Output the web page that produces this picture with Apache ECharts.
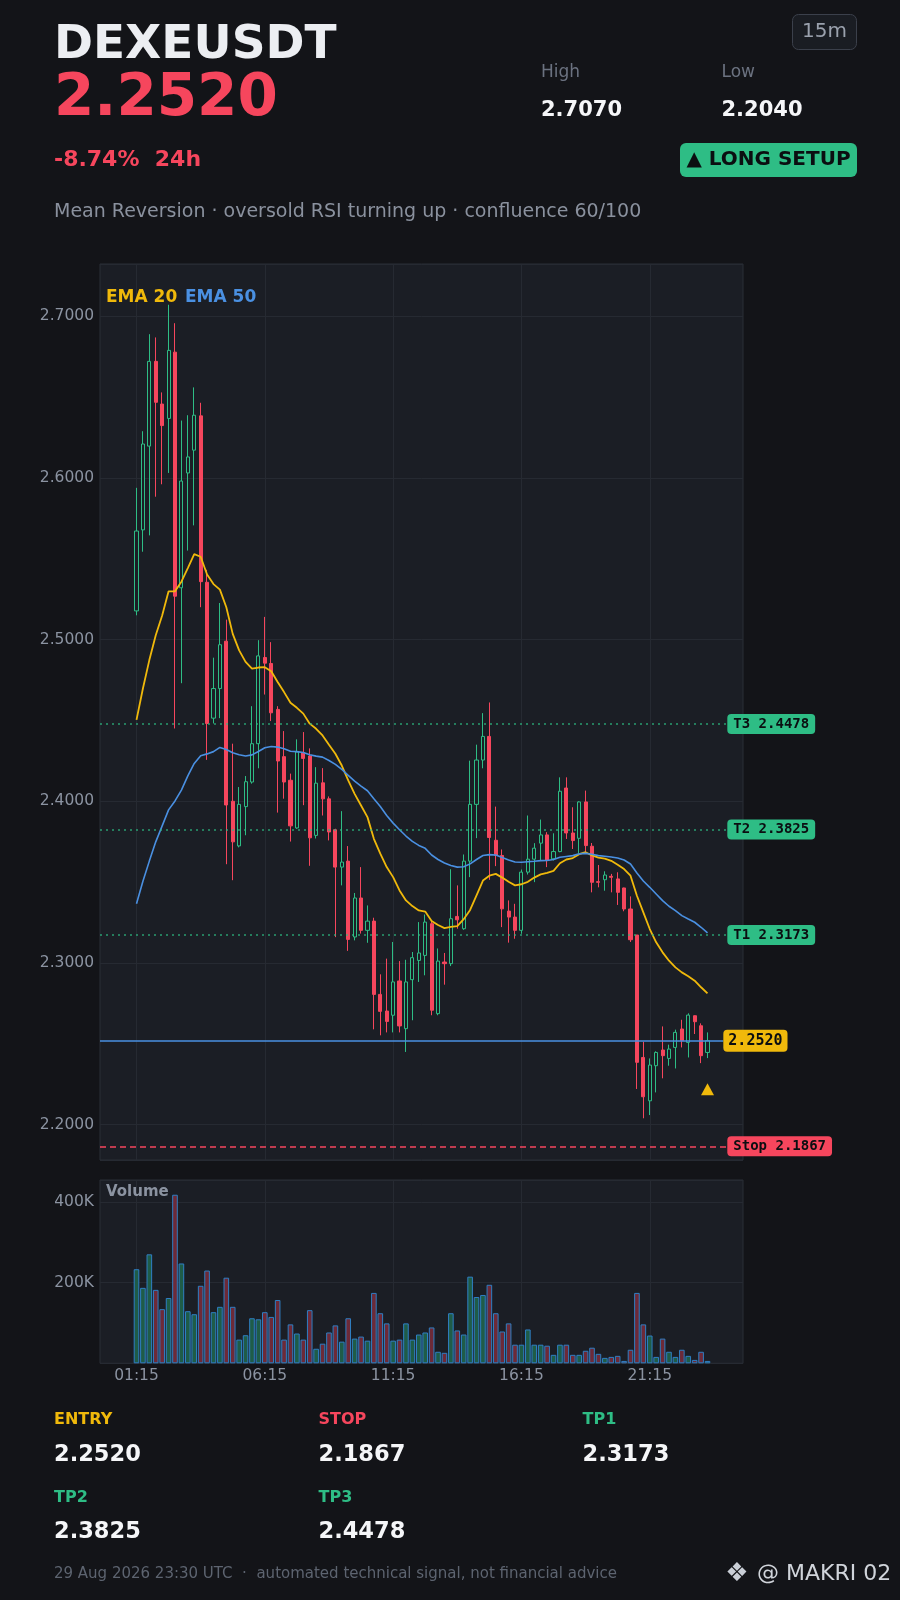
<!DOCTYPE html>
<html>
<head>
<meta charset="utf-8">
<script src="https://cdn.jsdelivr.net/npm/echarts@6/dist/echarts.min.js"></script>
<style>
html,body{margin:0;padding:0;background:#131418;}
#c{width:900px;height:1600px;}
</style>
</head>
<body>
<div id="c"></div>
<script>
// ---------- data ----------
const pair = 'DEXEUSDT';
const lastPrice = 2.2520;
const change24h = '-8.74%';
const high24h = 2.7070;
const low24h = 2.2040;
const timeframe = '15m';
const setupText = 'Mean Reversion · oversold RSI turning up · confluence 60/100';
const footerText = '29 Aug 2026 23:30 UTC  ·  automated technical signal, not financial advice';

const times = ['01:15','01:30','01:45','02:00','02:15','02:30','02:45','03:00','03:15','03:30',
'03:45','04:00','04:15','04:30','04:45','05:00','05:15','05:30','05:45','06:00',
'06:15','06:30','06:45','07:00','07:15','07:30','07:45','08:00','08:15','08:30',
'08:45','09:00','09:15','09:30','09:45','10:00','10:15','10:30','10:45','11:00',
'11:15','11:30','11:45','12:00','12:15','12:30','12:45','13:00','13:15','13:30',
'13:45','14:00','14:15','14:30','14:45','15:00','15:15','15:30','15:45','16:00',
'16:15','16:30','16:45','17:00','17:15','17:30','17:45','18:00','18:15','18:30',
'18:45','19:00','19:15','19:30','19:45','20:00','20:15','20:30','20:45','21:00',
'21:15','21:30','21:45','22:00','22:15','22:30','22:45','23:00','23:15','23:30'];

const opens = [2.5177,2.5678,2.6196,2.6720,2.6456,2.6367,2.6777,2.5320,2.6030,2.6171,
2.6383,2.5354,2.4514,2.4697,2.4990,2.4000,2.3724,2.3967,2.4119,2.4356,
2.4889,2.4852,2.4568,2.4276,2.4130,2.3835,2.4301,2.4280,2.3789,2.4114,
2.4015,2.3824,2.3593,2.3630,2.3161,2.3402,2.3202,2.3259,2.2806,2.2703,
2.2677,2.2889,2.2594,2.2897,2.3016,2.3047,2.3243,2.2687,2.3006,2.2996,
2.3288,2.3212,2.3630,2.3981,2.4255,2.4401,2.3759,2.3665,2.3321,2.3284,
2.3202,2.3562,2.3642,2.3741,2.3792,2.3644,2.3689,2.4082,2.3804,2.3771,
2.3996,2.3722,2.3503,2.3515,2.3536,2.3520,2.3464,2.3334,2.3173,2.2416,
2.2148,2.2365,2.2462,2.2410,2.2478,2.2592,2.2509,2.2674,2.2612,2.2447];

const closes = [2.5671,2.6209,2.6720,2.6467,2.6323,2.6788,2.5268,2.5980,2.6129,2.6387,
2.5358,2.4481,2.4697,2.4968,2.3977,2.3749,2.3981,2.4121,2.4356,2.4899,
2.4854,2.4547,2.4249,2.4119,2.3848,2.4305,2.4265,2.3774,2.4112,2.4015,
2.3810,2.3593,2.3624,2.3146,2.3402,2.3202,2.3259,2.2806,2.2701,2.2639,
2.2883,2.2611,2.2883,2.3033,2.3062,2.3253,2.2708,2.3012,2.2996,2.3274,
2.3267,2.3630,2.3981,2.4255,2.4401,2.3776,2.3665,2.3335,2.3284,2.3202,
2.3562,2.3642,2.3710,2.3792,2.3634,2.3689,2.4062,2.3804,2.3757,2.3996,
2.3726,2.3499,2.3499,2.3544,2.3530,2.3437,2.3334,2.3144,2.2386,2.2173,
2.2369,2.2447,2.2427,2.2468,2.2571,2.2520,2.2678,2.2637,2.2427,2.2520];

const lows = [2.5150,2.5543,2.5644,2.5883,2.5960,2.6030,2.4450,2.4730,2.5550,2.5706,
2.5200,2.4256,2.4481,2.4514,2.3611,2.3512,2.3715,2.3790,2.4109,2.4204,
2.4660,2.4496,2.3930,2.4016,2.3751,2.3830,2.3976,2.3601,2.3770,2.3912,
2.3758,2.3160,2.3480,2.3075,2.3140,2.3182,2.3125,2.2590,2.2553,2.2571,
2.2571,2.2571,2.2450,2.2646,2.2883,2.2924,2.2677,2.2677,2.2866,2.2981,
2.3212,2.3205,2.3531,2.3772,2.4204,2.3514,2.3599,2.3222,2.3126,2.3150,
2.3181,2.3547,2.3500,2.3634,2.3593,2.3634,2.3685,2.3767,2.3705,2.3680,
2.3685,2.3437,2.3468,2.3447,2.3437,2.3359,2.3320,2.3130,2.2221,2.2040,
2.2060,2.2200,2.2287,2.2365,2.2348,2.2478,2.2416,2.2561,2.2381,2.2412];

const highs = [2.5938,2.6288,2.6888,2.6868,2.6528,2.7070,2.6956,2.6354,2.6387,2.6559,
2.6464,2.5431,2.4888,2.5226,2.5123,2.4356,2.4088,2.4156,2.4588,2.4996,
2.5140,2.4984,2.4588,2.4434,2.4171,2.4383,2.4428,2.4327,2.4211,2.4205,
2.4030,2.3830,2.3939,2.3723,2.3433,2.3593,2.3356,2.3280,2.2930,2.3027,
2.3130,2.3012,2.3020,2.3068,2.3253,2.3300,2.3264,2.3090,2.3062,2.3580,
2.3480,2.3671,2.4251,2.4350,2.4545,2.4611,2.3967,2.3702,2.3387,2.3366,
2.3578,2.3912,2.3741,2.3887,2.3809,2.3802,2.4148,2.4148,2.3963,2.4000,
2.4066,2.3742,2.3606,2.3567,2.3551,2.3561,2.3466,2.3412,2.3173,2.2513,
2.2410,2.2454,2.2608,2.2495,2.2588,2.2649,2.2689,2.2676,2.2627,2.2571];

const ema20 = [2.4503,2.4697,2.4873,2.5027,2.5149,2.5298,2.5298,2.5358,2.5442,2.5528,
2.5512,2.5402,2.5343,2.5309,2.5200,2.5035,2.4933,2.4862,2.4820,2.4827,
2.4829,2.4804,2.4737,2.4675,2.4609,2.4578,2.4542,2.4480,2.4448,2.4407,
2.4349,2.4294,2.4221,2.4129,2.4046,2.3974,2.3902,2.3768,2.3676,2.3593,
2.3531,2.3449,2.3387,2.3352,2.3325,2.3318,2.3260,2.3235,2.3216,2.3223,
2.3228,2.3271,2.3328,2.3418,2.3510,2.3540,2.3551,2.3528,2.3502,2.3480,
2.3487,2.3502,2.3528,2.3548,2.3557,2.3570,2.3617,2.3640,2.3649,2.3673,
2.3685,2.3665,2.3652,2.3645,2.3632,2.3608,2.3581,2.3540,2.3416,2.3313,
2.3210,2.3128,2.3066,2.3014,2.2973,2.2942,2.2918,2.2891,2.2850,2.2812];

const ema50 = [2.3366,2.3505,2.3630,2.3749,2.3848,2.3947,2.4002,2.4069,2.4157,2.4234,
2.4282,2.4293,2.4307,2.4333,2.4320,2.4300,2.4288,2.4280,2.4287,2.4308,
2.4331,2.4339,2.4335,2.4325,2.4309,2.4307,2.4302,2.4288,2.4279,2.4273,
2.4252,2.4228,2.4197,2.4160,2.4125,2.4094,2.4065,2.4015,2.3968,2.3912,
2.3865,2.3824,2.3785,2.3752,2.3727,2.3709,2.3668,2.3640,2.3618,2.3603,
2.3593,2.3595,2.3613,2.3640,2.3665,2.3670,2.3668,2.3652,2.3637,2.3625,
2.3623,2.3626,2.3629,2.3633,2.3634,2.3640,2.3654,2.3659,2.3664,2.3675,
2.3678,2.3672,2.3664,2.3660,2.3655,2.3649,2.3637,2.3612,2.3557,2.3507,
2.3468,2.3427,2.3386,2.3351,2.3324,2.3293,2.3272,2.3252,2.3221,2.3186];

const volumes = [233500,187300,270500,182300,134400,162100,418400,247800,129300,121800,
192400,230200,126900,140200,212500,140200,58800,69700,111800,109200,
126900,115100,157100,58800,96600,73900,58800,131900,36100,48700,
76500,94100,53800,111800,61300,66300,56200,174700,124300,99100,
56200,58800,99100,58800,71400,76500,89000,28600,26000,124300,
81500,71400,215100,164600,169600,194900,124300,79000,99100,46200,
46200,84000,46200,46200,43700,21000,46200,46200,21000,21000,
31100,38700,23500,13500,15900,18500,5900,33600,174700,96600,
68900,15900,61300,28600,15900,33600,18500,8400,28600,5900];

const entryLevel = 2.2520;
const stopLevel = 2.1867;
const targetNames = ['T1','T2','T3'];
const targetLevels = [2.3173, 2.3825, 2.4478];
const signalMarker = 2.2220;   // long-signal triangle under last candle

const priceMin = 2.1782, priceMax = 2.7322;
const volMax = 455000, volTick = 200000;

// ---------- style ----------
const FONT = "'DejaVu Sans', sans-serif";
const MONO = "'DejaVu Sans Mono', monospace";
const COL = {
  page:'#131418', panel:'#1b1e25', border:'#2a2e37', split:'#262a32', axis:'#8b93a1',
  green:'#2ebd85', red:'#f6465d', yellow:'#f0b90b', blue:'#4a90e2', dark:'#0b0e11',
  volUp:'#1f5c48', volDown:'#6d2a38', volEdge:'#2f7fc4'
};
const MAIN = {top:264, height:896};
const VOL = {top:1180, height:183.3};
const PANEL = {left:100, width:643};
const DATA = {left:136.5, width:571};
const TARGET_END = 0.9756, ENTRY_END = 0.9694;

function txt(text, x, y, size, color, weight, align, family) {
  return {
    type:'text', z:100, silent:true,
    style:{
      text:text, x:x, y:y, fill:color,
      font:(weight||'normal') + ' ' + size + 'px ' + (family||FONT),
      textAlign:align||'left', align:align||'left',
      textVerticalAlign:'middle', verticalAlign:'middle'
    }
  };
}

const candleData = opens.map((o, i) => [o, closes[i], lows[i], highs[i]]);
const volData = volumes.map((v, i) => ({
  value:v, itemStyle:{color: closes[i] >= opens[i] ? COL.volUp : COL.volDown}
}));

const lblBase = {show:true, position:'end', distance:0, fontFamily:MONO, fontWeight:'bold',
  fontSize:14, color:COL.dark, padding:[3,6,3,6], borderRadius:4};

const levelLines = [];
targetNames.forEach((n, k) => {
  levelLines.push([
    {coord:[0, targetLevels[k]],
     lineStyle:{color:'rgba(46,189,133,0.8)', width:1.5, type:[2,4]},
     label:Object.assign({}, lblBase, {formatter:n + ' ' + targetLevels[k].toFixed(4), backgroundColor:COL.green})},
    {coord:[TARGET_END, targetLevels[k]]}
  ]);
});
levelLines.push([
  {coord:[0, entryLevel], lineStyle:{color:COL.blue, width:1.5, type:'solid'},
   label:Object.assign({}, lblBase, {formatter:entryLevel.toFixed(4), backgroundColor:COL.yellow,
     fontSize:15, padding:[4,5,3,5]})},
  {coord:[ENTRY_END, entryLevel]}
]);
levelLines.push([
  {coord:[0, stopLevel], lineStyle:{color:COL.red, width:1.5, type:[6,4]},
   label:Object.assign({}, lblBase, {formatter:'Stop ' + stopLevel.toFixed(4), backgroundColor:COL.red})},
  {coord:[TARGET_END, stopLevel]}
]);

// bottom trade-level table
const tableItems = [
  ['ENTRY', entryLevel, COL.yellow, 54, 1420, 1455.5],
  ['STOP', stopLevel, COL.red, 318.5, 1420, 1455.5],
  ['TP1', targetLevels[0], COL.green, 582.5, 1420, 1455.5],
  ['TP2', targetLevels[1], COL.green, 54, 1497.5, 1532],
  ['TP3', targetLevels[2], COL.green, 318.5, 1497.5, 1532]
];

const graphics = [
  txt(pair, 54, 46, 47, '#eceef2', 'bold'),
  txt(lastPrice.toFixed(4), 54, 100, 58, COL.red, 'bold'),
  txt(change24h + '  24h', 54, 160.5, 22, COL.red, 'bold'),
  txt(setupText, 54, 212.5, 19, '#8a919e'),
  txt('High', 541, 73, 17, '#6b7280'),
  txt(high24h.toFixed(4), 541, 111, 21, '#f5f6f8', 'bold'),
  txt('Low', 721.5, 73, 17, '#6b7280'),
  txt(low24h.toFixed(4), 721.5, 111, 21, '#f5f6f8', 'bold'),
  {type:'rect', z:90, silent:true, shape:{x:792.5, y:14.5, width:64, height:35, r:6},
   style:{fill:'#1a1d23', stroke:'#3b404b', lineWidth:1}},
  txt(timeframe, 824.5, 32, 20, '#9aa1ad', 'normal', 'center'),
  {type:'rect', z:90, silent:true, shape:{x:680, y:143, width:177, height:34, r:6},
   style:{fill:COL.green}},
  txt('▲ LONG SETUP', 768.5, 160, 20, COL.dark, 'bold', 'center'),
  txt('EMA 20', 106, 297.5, 17, COL.yellow, 'bold'),
  txt('EMA 50', 185, 297.5, 17, COL.blue, 'bold'),
  txt('Volume', 106, 1192, 15, COL.axis, 'bold'),
  txt(footerText, 54, 1574.5, 15, '#5d6470'),
  txt('❖', 737, 1574, 26, '#c9ced6', 'normal', 'center'),
  txt('@ MAKRI 02', 757, 1574, 22, '#d0d4da')
];
tableItems.forEach(t => {
  graphics.push(txt(t[0], t[3], t[4], 16, t[2], 'bold'));
  graphics.push(txt(t[1].toFixed(4), t[3], t[5], 22.5, '#f5f6f8', 'bold'));
});

const axisLabelStyle = {color:COL.axis, fontFamily:FONT, fontSize:15.5};

const option = {
  backgroundColor: COL.page,
  animation: false,
  grid: [
    {left:PANEL.left, width:PANEL.width, top:MAIN.top, height:MAIN.height, show:true,
     backgroundColor:COL.panel, borderColor:COL.border, borderWidth:1},
    {left:DATA.left, width:DATA.width, top:MAIN.top, height:MAIN.height},
    {left:PANEL.left, width:PANEL.width, top:VOL.top, height:VOL.height, show:true,
     backgroundColor:COL.panel, borderColor:COL.border, borderWidth:1},
    {left:DATA.left, width:DATA.width, top:VOL.top, height:VOL.height}
  ],
  xAxis: [
    {gridIndex:0, type:'value', min:0, max:1, show:false},
    {gridIndex:1, type:'category', data:times, boundaryGap:false,
     axisLine:{show:false}, axisTick:{show:false}, axisLabel:{show:false},
     splitLine:{show:true, interval:19, lineStyle:{color:COL.split, width:1}}},
    {gridIndex:2, type:'value', min:0, max:1, show:false},
    {gridIndex:3, type:'category', data:times, boundaryGap:false,
     axisLine:{show:false}, axisTick:{show:false},
     axisLabel:Object.assign({interval:19, margin:5}, axisLabelStyle),
     splitLine:{show:true, interval:19, lineStyle:{color:COL.split, width:1}}}
  ],
  yAxis: [
    {gridIndex:0, type:'value', min:priceMin, max:priceMax, position:'left',
     axisLine:{show:false}, axisTick:{show:false},
     axisLabel:Object.assign({margin:6, showMinLabel:false, showMaxLabel:false,
       formatter:v => v.toFixed(4)}, axisLabelStyle),
     splitLine:{show:true, lineStyle:{color:COL.split, width:1}}},
    {gridIndex:1, type:'value', min:priceMin, max:priceMax, show:false, splitLine:{show:false}},
    {gridIndex:2, type:'value', min:0, max:volMax, interval:volTick, position:'left',
     axisLine:{show:false}, axisTick:{show:false},
     axisLabel:Object.assign({margin:6, showMinLabel:false, showMaxLabel:false,
       formatter:v => (v/1000) + 'K'}, axisLabelStyle),
     splitLine:{show:true, lineStyle:{color:COL.split, width:1}}},
    {gridIndex:3, type:'value', min:0, max:volMax, show:false, splitLine:{show:false}}
  ],
  series: [
    {type:'line', xAxisIndex:0, yAxisIndex:0, data:[], silent:true,
     markLine:{silent:true, symbol:['none','none'], animation:false, data:levelLines}},
    {type:'bar', xAxisIndex:3, yAxisIndex:3, data:volData, barWidth:5.6, clip:false,
     itemStyle:{borderColor:COL.volEdge, borderWidth:1}},
    {type:'candlestick', xAxisIndex:1, yAxisIndex:1, data:candleData, barWidth:3.6, clip:false,
     itemStyle:{color:COL.panel, color0:COL.red, borderColor:COL.green, borderColor0:COL.red, borderWidth:1}},
    {type:'line', xAxisIndex:1, yAxisIndex:1, data:ema20, symbol:'none', clip:false,
     lineStyle:{color:COL.yellow, width:1.8}},
    {type:'line', xAxisIndex:1, yAxisIndex:1, data:ema50, symbol:'none', clip:false,
     lineStyle:{color:COL.blue, width:1.6}},
    {type:'scatter', xAxisIndex:1, yAxisIndex:1, symbol:'triangle', symbolSize:[13,12],
     data:[[times[times.length-1], signalMarker]], itemStyle:{color:COL.yellow, opacity:1}}
  ],
  graphic: graphics
};

const chart = echarts.init(document.getElementById('c'), null, {renderer:'canvas'});
chart.setOption(option);
</script>
</body>
</html>
